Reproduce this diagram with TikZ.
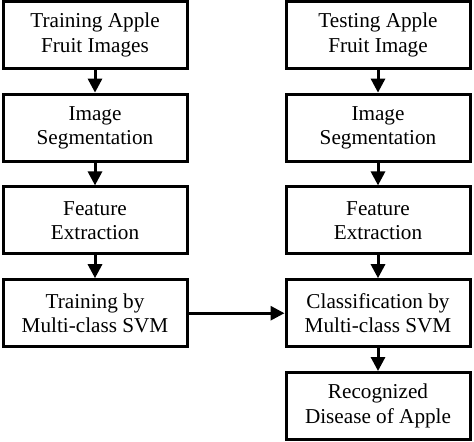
\documentclass[tikz,border=0pt]{standalone}
\usepackage{fontspec}
\setmainfont{Liberation Serif}
\usetikzlibrary{positioning,arrows.meta}

\begin{document}
\begin{tikzpicture}
	    \tikzstyle{every node}=[rectangle,draw,line width=1.5pt,minimum width=92pt,minimum height=33.5pt,align=center,inner sep=2pt,font=\fontsize{10.6}{12.2}\selectfont]
	    \tikzstyle{flow}=[line width=1.5pt,-{Triangle[length=7pt,width=7pt]}]
	    \useasboundingbox (0,0) rectangle (237pt,-220.5pt);
	    % training side
	    \node (trainimg) at (47.5pt,-17.4pt) {Training Apple\\Fruit Images};
	    \node (segtrain) [below=11.4pt of trainimg] {Image\\Segmentation};
	    \node (feattrain) [below=11.4pt of segtrain] {Feature\\Extraction};
	    \node (svmtrain) [below=11.4pt of feattrain] {Training by\\Multi-class SVM};
	    % testing side
	    \node (testimg) at (189pt,-17.4pt) {Testing Apple\\Fruit Image};
	    \node (segtest) [below=11.4pt of testimg] {Image\\Segmentation};
	    \node (feattest) [below=11.4pt of segtest] {Feature\\Extraction};
	    \node (svmtest) [below=11.4pt of feattest] {Classification by\\Multi-class SVM};
	    \node (result) [below=11.4pt of svmtest] {Recognized\\Disease of Apple};
	    \draw[flow] (trainimg) -- (segtrain);
	    \draw[flow] (segtrain) -- (feattrain);
	    \draw[flow] (feattrain) -- (svmtrain);
	    \draw[flow] (testimg) -- (segtest);
	    \draw[flow] (segtest) -- (feattest);
	    \draw[flow] (feattest) -- (svmtest);
	    \draw[flow] (svmtest) -- (result);
	    \draw[flow] (svmtrain) -- (svmtest);
\end{tikzpicture}
\end{document}
